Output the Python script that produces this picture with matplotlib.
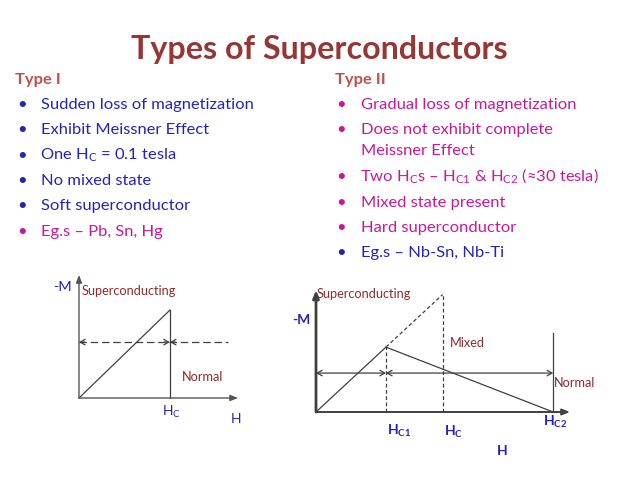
import matplotlib
matplotlib.use('Agg')
import matplotlib.pyplot as plt

plt.rcParams['font.family'] = ['Lato', 'DejaVu Sans']
plt.rcParams['mathtext.fontset'] = 'custom'
plt.rcParams['mathtext.rm'] = 'Lato'
plt.rcParams['mathtext.it'] = 'Lato:italic'
plt.rcParams['mathtext.bf'] = 'Lato:bold'

# ---------------- data ----------------
TITLE = 'Types of Superconductors'

TYPE1_HEAD = 'Type I'
TYPE1_ITEMS = ['Sudden loss of magnetization',
               'Exhibit Meissner Effect',
               r'One H$_\mathrm{C}$ = 0.1 tesla',
               'No mixed state',
               'Soft superconductor',
               'Eg.s – Pb, Sn, Hg']
TYPE1_COLORS = ['blue', 'blue', 'blue', 'blue', 'blue', 'magenta']
TYPE1_BULLET = [True, True, True, True, True, True]

TYPE2_HEAD = 'Type II'
TYPE2_ITEMS = ['Gradual loss of magnetization',
               'Does not exhibit complete',
               'Meissner Effect',
               r'Two H$_\mathrm{C}$s – H$_\mathrm{C1}$ & H$_\mathrm{C2}$ (≈30 tesla)',
               'Mixed state present',
               'Hard superconductor',
               'Eg.s – Nb-Sn, Nb-Ti']
TYPE2_COLORS = ['magenta'] * 6 + ['blue']
TYPE2_BULLET = [True, True, False, True, True, True, True]

# Type I magnetisation curve (H, -M): linear up to Hc, then drops to zero
TYPE1_H = [0.0, 1.0]
TYPE1_M = [0.0, 1.0]
TYPE1_HC = 1.0

# Type II magnetisation curve (H, -M): rises to Hc1, falls to zero at Hc2
TYPE2_H = [0.0, 1.0, 3.39]
TYPE2_M = [0.0, 1.0, 0.0]
TYPE2_HC1 = 1.0
TYPE2_HC = 1.81
TYPE2_HC2 = 3.39

# ---------------- style ----------------
COLORS = {'blue': '#2424B8', 'magenta': '#C8189A'}
TITLE_COLOR = '#953735'
HEAD_COLOR = '#C0504D'
LABEL_RED = '#8E2B2B'
LINE = '#404040'

W, H = 638, 478
fig = plt.figure(figsize=(W / 100, H / 100), dpi=100)
fig.patch.set_facecolor('white')
ax0 = fig.add_axes([0, 0, 1, 1])
ax0.set_xlim(0, W)
ax0.set_ylim(H, 0)
ax0.axis('off')
renderer = fig.canvas.get_renderer()


def fitted_size(s, target, **kw):
    t = ax0.text(0, 0, s, fontsize=12, **kw)
    w = t.get_window_extent(renderer).width
    t.remove()
    return 12 * target / w


TITLE_SIZE = fitted_size(TITLE, 375, fontweight='bold')
BODY_SIZE = fitted_size(TYPE1_ITEMS[0], 211)
LABEL_SIZE = fitted_size('Superconducting', 95)
BOLD_SIZE = LABEL_SIZE * 1.08

# title
ax0.text(319.5, 59, TITLE, ha='center', va='baseline', fontsize=TITLE_SIZE,
         fontweight='bold', color=TITLE_COLOR)

# columns
def column(x_head, x_bullet, x_text, head, items, colors, bullets, bases):
    ax0.text(x_head, 84, head, ha='left', va='baseline', fontsize=BODY_SIZE,
             fontweight='bold', color=HEAD_COLOR)
    for s, c, b, y in zip(items, colors, bullets, bases):
        col = COLORS[c]
        if b:
            ax0.text(x_bullet, y, '•', ha='center', va='baseline',
                     fontsize=BODY_SIZE, color=col)
        dx = -1 if '$' in s else 0
        ax0.text(x_text + dx, y, s, ha='left', va='baseline',
                 fontsize=BODY_SIZE, color=col)


column(15, 22, 41, TYPE1_HEAD, TYPE1_ITEMS, TYPE1_COLORS, TYPE1_BULLET,
       [109, 134, 160, 185, 210, 236])
column(335, 341, 361, TYPE2_HEAD, TYPE2_ITEMS, TYPE2_COLORS, TYPE2_BULLET,
       [109, 134, 155, 181, 207, 232, 257])


def px_axes(x0, y0, x1, y1):
    a = fig.add_axes([x0 / W, 1 - y1 / H, (x1 - x0) / W, (y1 - y0) / H])
    a.axis('off')
    return a


def arrow(ax, p0, p1, style, lw=1.0, ls='-', color=LINE):
    ax.annotate('', xy=p1, xytext=p0, annotation_clip=False,
                arrowprops=dict(arrowstyle=style, color=color, lw=lw,
                                linestyle=ls, shrinkA=0, shrinkB=0))


# ---------------- diagram 1 (Type I) ----------------
ax1 = px_axes(79, 275, 238, 398)
ax1.set_xlim(0, 1.75)
ax1.set_ylim(0, 1.40)
axis_head = '-|>,head_length=0.45,head_width=0.18'
arrow(ax1, (0, 0), (1.75, 0), axis_head, lw=1.0, color='#555555')
arrow(ax1, (0, 0), (0, 1.40), axis_head, lw=1.0, color='#555555')
ax1.plot(TYPE1_H, TYPE1_M, color=LINE, lw=0.9, clip_on=False)
ax1.plot([TYPE1_HC, TYPE1_HC], [0, TYPE1_M[-1]], color=LINE, lw=0.9,
         clip_on=False)
lvl1 = 0.636
open_head = '<->,head_length=0.35,head_width=0.2'
small_head = '->,head_length=0.35,head_width=0.2'
ax1.plot([0, 1.64], [lvl1, lvl1], color=LINE, lw=0.9, ls=(0, (6, 3)),
         clip_on=False)
arrow(ax1, (0.06, lvl1), (0, lvl1), small_head, lw=0.9)
arrow(ax1, (TYPE1_HC - 0.06, lvl1), (TYPE1_HC, lvl1), small_head, lw=0.9)
arrow(ax1, (TYPE1_HC + 0.06, lvl1), (TYPE1_HC, lvl1), small_head, lw=0.9)

ax0.text(53, 291, '-M', ha='left', va='baseline', fontsize=LABEL_SIZE * 1.12,
         color=COLORS['blue'])
ax0.text(82, 295, 'Superconducting', ha='left', va='baseline',
         fontsize=LABEL_SIZE, color=LABEL_RED)
ax0.text(182, 381, 'Normal', ha='left', va='baseline', fontsize=LABEL_SIZE,
         color=LABEL_RED)
ax0.text(162, 416, r'H$_\mathrm{C}$', ha='left', va='baseline',
         fontsize=LABEL_SIZE * 1.08, color=COLORS['blue'])
ax0.text(231, 423, 'H', ha='left', va='baseline', fontsize=LABEL_SIZE * 1.08,
         color=COLORS['blue'])

# ---------------- diagram 2 (Type II) ----------------
ax2 = px_axes(316, 290, 570, 412)
ax2.set_xlim(0, 3.63)
ax2.set_ylim(0, 1.88)
arrow(ax2, (0, 0), (3.63, 0), axis_head, lw=1.4, color=LINE)
arrow(ax2, (0, 0), (0, 1.88), axis_head, lw=2.0, color=LINE)
ax2.plot(TYPE2_H, TYPE2_M, color=LINE, lw=0.9, clip_on=False)
m_hc = TYPE2_M[1] * TYPE2_HC / TYPE2_HC1
dash = (0, (3, 2))
ax2.plot([TYPE2_HC1, TYPE2_HC], [TYPE2_M[1], m_hc], color=LINE, lw=0.9,
         ls=dash, clip_on=False)
ax2.plot([TYPE2_HC1, TYPE2_HC1], [0, TYPE2_M[1]], color=LINE, lw=0.9,
         ls=dash, clip_on=False)
ax2.plot([TYPE2_HC, TYPE2_HC], [0, m_hc], color=LINE, lw=0.9, ls=dash,
         clip_on=False)
ax2.plot([TYPE2_HC2, TYPE2_HC2], [0, 1.215], color=LINE, lw=0.9,
         clip_on=False)
lvl2 = 0.6
arrow(ax2, (0, lvl2), (TYPE2_HC1, lvl2), open_head, lw=0.9)
arrow(ax2, (TYPE2_HC1, lvl2), (TYPE2_HC2, lvl2), open_head, lw=0.9)

ax0.text(317, 298, 'Superconducting', ha='left', va='baseline',
         fontsize=LABEL_SIZE, color=LABEL_RED)
ax0.text(292, 324, '-M', ha='left', va='baseline', fontsize=BOLD_SIZE,
         fontweight='bold', color=COLORS['blue'])
ax0.text(450, 347, 'Mixed', ha='left', va='baseline', fontsize=LABEL_SIZE,
         color=LABEL_RED)
ax0.text(554, 387, 'Normal', ha='left', va='baseline', fontsize=LABEL_SIZE,
         color=LABEL_RED)
ax0.text(387, 435, r'$\mathbf{H}_\mathbf{C1}$', ha='left', va='baseline',
         fontsize=BOLD_SIZE, color=COLORS['blue'])
ax0.text(444, 436, r'$\mathbf{H}_\mathbf{C}$', ha='left', va='baseline',
         fontsize=BOLD_SIZE, color=COLORS['blue'])
ax0.text(543, 426, r'$\mathbf{H}_\mathbf{C2}$', ha='left', va='baseline',
         fontsize=BOLD_SIZE, color=COLORS['blue'])
ax0.text(497, 455, 'H', ha='left', va='baseline', fontsize=BOLD_SIZE,
         fontweight='bold', color=COLORS['blue'])

fig.savefig('out.png', dpi=100, facecolor='white')
